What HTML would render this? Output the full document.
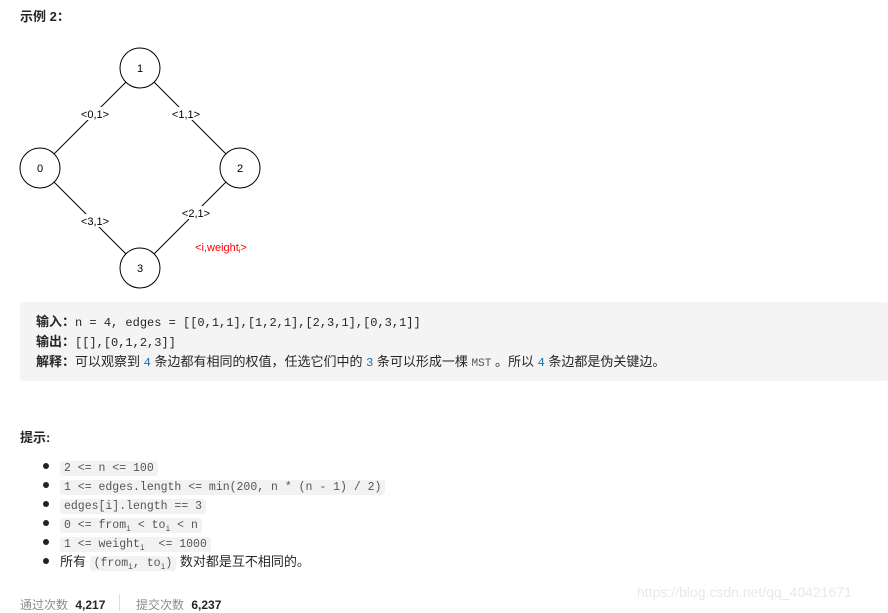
<!DOCTYPE html>
<html><head><meta charset="utf-8"><style>
body{margin:0;width:888px;height:611px;background:#fff;position:relative;overflow:hidden;font-family:"Liberation Sans","Noto Sans CJK SC",sans-serif;color:#262626}
.a{position:absolute;white-space:nowrap}
.m{font-family:"Liberation Mono","Noto Sans CJK SC",monospace;font-size:12px}
.c{background:#f2f2f2;border-radius:3px;padding:1px 4px;font-family:"Liberation Mono","Noto Sans CJK SC",monospace;font-size:11.5px;color:#555}
.s{font-size:8px;position:relative;top:3px;line-height:0}
.b{position:absolute;width:6px;height:6px;border-radius:50%;background:#222;left:43px}
.r{height:19px;line-height:19px}
</style></head><body>
<div class="a" style="left:20px;top:6px;font-size:13px;font-weight:bold">示例 2：</div>
<svg class="a" style="left:0;top:0" width="290" height="295">
<g stroke="#000" stroke-width="1" fill="none">
<circle cx="140" cy="68" r="20"/><circle cx="40" cy="168" r="20"/><circle cx="240" cy="168" r="20"/><circle cx="140" cy="268" r="20"/>
<line x1="126" y1="82" x2="54" y2="154"/><line x1="154" y1="82" x2="226" y2="154"/>
<line x1="54" y1="182" x2="126" y2="254"/><line x1="226" y1="182" x2="154" y2="254"/>
</g>
<g font-family="Liberation Sans,sans-serif" font-size="11" text-anchor="middle">
<text x="140" y="72">1</text><text x="40" y="172">0</text><text x="240" y="172">2</text><text x="140" y="272">3</text>
<rect x="80" y="107" width="30" height="13" fill="#fff"/><text x="95" y="118">&lt;0,1&gt;</text>
<rect x="171" y="107" width="30" height="13" fill="#fff"/><text x="186" y="118">&lt;1,1&gt;</text>
<rect x="80" y="214" width="30" height="13" fill="#fff"/><text x="95" y="225">&lt;3,1&gt;</text>
<rect x="181" y="206" width="30" height="13" fill="#fff"/><text x="196" y="217">&lt;2,1&gt;</text>
<text x="221" y="251" fill="#f00">&lt;i,weight<tspan font-size="7" dy="2">i</tspan><tspan dy="-2">&gt;</tspan></text>
</g></svg>
<div class="a" style="left:20px;top:302px;width:868px;height:79px;background:#f4f4f4;border-radius:3px"></div>
<div class="a" style="left:36px;top:312px;font-size:13px">
<div style="height:20px;line-height:20px"><b>输入：</b><span class="m">n = 4, edges = [[0,1,1],[1,2,1],[2,3,1],[0,3,1]]</span></div>
<div style="height:20px;line-height:20px"><b>输出：</b><span class="m">[[],[0,1,2,3]]</span></div>
<div style="height:20px;line-height:20px"><b>解释：</b>可以观察到 <span class="m" style="color:#1a6fa8">4</span> 条边都有相同的权值，任选它们中的 <span class="m" style="color:#1a6fa8">3</span> 条可以形成一棵 <span class="m" style="font-size:11px;color:#555">MST</span> 。所以 <span class="m" style="color:#1a6fa8">4</span> 条边都是伪关键边。</div>
</div>
<div class="a" style="left:20px;top:427px;font-size:13px;font-weight:bold">提示:</div>
<div class="b" style="top:463px"></div><div class="b" style="top:482px"></div><div class="b" style="top:501px"></div>
<div class="b" style="top:520px"></div><div class="b" style="top:539px"></div><div class="b" style="top:558px"></div>
<div class="a" style="left:60px;top:457px;font-size:13px">
<div class="r"><span class="c">2 &lt;= n &lt;= 100</span></div>
<div class="r"><span class="c">1 &lt;= edges.length &lt;= min(200, n * (n - 1) / 2)</span></div>
<div class="r"><span class="c">edges[i].length == 3</span></div>
<div class="r"><span class="c">0 &lt;= from<span class="s">i</span> &lt; to<span class="s">i</span> &lt; n</span></div>
<div class="r"><span class="c">1 &lt;= weight<span class="s">i</span> &nbsp;&lt;= 1000</span></div>
<div class="r">所有 <span class="c">(from<span class="s">i</span>, to<span class="s">i</span>)</span> 数对都是互不相同的。</div>
</div>
<div class="a" style="left:20px;top:596px;font-size:12px;color:#8c8c8c">通过次数 <b style="color:#262626;margin-left:4px">4,217</b></div>
<div class="a" style="left:119px;top:594px;width:1px;height:17px;background:#ddd"></div>
<div class="a" style="left:136px;top:596px;font-size:12px;color:#8c8c8c">提交次数 <b style="color:#262626;margin-left:4px">6,237</b></div>
<div class="a" style="left:637px;top:584px;font-size:14px;color:#e8e8e8">https://blog.csdn.net/qq_40421671</div>
</body></html>
